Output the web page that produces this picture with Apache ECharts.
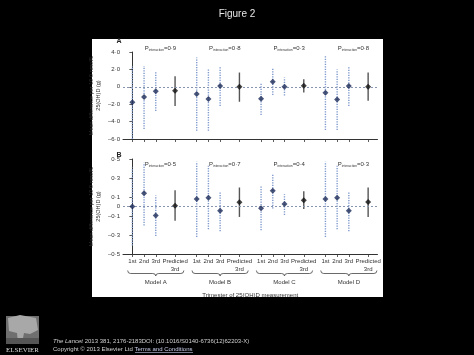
<!DOCTYPE html>
<html><head><meta charset="utf-8">
<script src="https://cdn.jsdelivr.net/npm/echarts@6/dist/echarts.min.js"></script>
<style>html,body{margin:0;padding:0;background:#000;}#c{width:474px;height:355px;}</style>
</head><body><div id="c"></div>
<script>
// ---- data ----
const categories = ['1st', '2nd', '3rd', 'Predicted\n3rd'];
const models = ['Model A', 'Model B', 'Model C', 'Model D'];
const pInteractionA = ['0·9', '0·8', '0·3', '0·8'];
const pInteractionB = ['0·5', '0·7', '0·4', '0·3'];
// panel A (per model: 1st, 2nd, 3rd, predicted 3rd)
const estimateA = [-1.79, -1.18, -0.50, -0.46,  -0.84, -1.41, 0.08, 0.00,  -1.37, 0.57, 0.00, 0.11,  -0.69, -1.45, 0.08, 0.00];
const lowerA    = [-6.00, -4.85, -2.79, -2.20,  -5.04, -5.04, -2.20, -1.72, -3.24, -0.95, -0.99, -0.65, -4.96, -4.96, -2.20, -1.60];
const upperA    = [ 2.40,  2.40,  1.83,  1.22,   3.36,  2.00,  2.29,  1.64,  0.50,  2.10,  1.07,  0.88,  3.50,  2.00,  2.40,  1.64];
// panel B
const estimateB = [0.000, 0.140, -0.096, 0.007,  0.078, 0.093, -0.044, 0.044,  -0.018, 0.167, 0.026, 0.067,  0.078, 0.093, -0.044, 0.048];
const lowerB    = [-0.41, -0.20, -0.31, -0.15,  -0.32, -0.24, -0.26, -0.11,  -0.25, -0.02, -0.09, -0.026,  -0.32, -0.24, -0.26, -0.11];
const upperB    = [ 0.41,  0.46,  0.115, 0.17,   0.47,  0.43,  0.16,  0.20,   0.21,  0.34,  0.13,  0.16,    0.47,  0.43,  0.16,  0.20];
const yTicksA = [-6, -4, -2, 0, 2, 4];
const yTicksB = [-0.5, -0.3, -0.1, 0, 0.1, 0.3, 0.5];
const yAxisTitle = 'Mean difference per 10·0 nmol/L\n25(OH)D (g)';
const xAxisTitle = 'Trimester of 25(OH)D measurement';

// ---- layout helpers ----
const catOffset = [0, 1, 2, 3.65];
const modelStep = 5.5;
const xPos = i => Math.floor(i / 4) * modelStep + catOffset[i % 4];
const xTicks = estimateA.map((_, i) => xPos(i));
const FONT = 'Liberation Sans, Arial, sans-serif';
const fmtY = v => Math.abs(v) < 1e-9 ? '0' : (v < 0 ? '–' : '') + Math.abs(v).toFixed(1).replace('.', '·');
const fmtX = v => { const i = xTicks.findIndex(t => Math.abs(t - v) < 1e-6); return i < 0 ? '' : categories[i % 4]; };

function barData(lo, hi) { return lo.map((l, i) => [xPos(i), l, hi[i], i % 4 === 3 ? 1 : 0]); }
function ptData(est, pred) { return est.map((e, i) => [xPos(i), e, i]).filter(d => (d[2] % 4 === 3) === pred).map(d => [d[0], d[1]]); }

function errRender(params, api) {
  const x = api.value(0), lo = api.value(1), hi = api.value(2), pred = api.value(3);
  const a = api.coord([x, lo]), b = api.coord([x, hi]);
  return {
    type: 'line',
    shape: { x1: a[0], y1: a[1], x2: b[0], y2: b[1] },
    style: pred ? { stroke: '#555', lineWidth: 1.4 } : { stroke: '#7d98cc', lineWidth: 1.4, lineDash: [1.2, 1.3] }
  };
}
function pLabelRender(vals, dy) {
  return function (params, api) {
    const p = api.coord([api.value(0), api.value(1)]);
    const v = vals[params.dataIndex];
    return {
      type: 'text', x: p[0], y: p[1] + dy,
      style: {
        text: '{p|P}{s|interaction}{p|=' + v + '}',
        align: 'center', verticalAlign: 'middle',
        rich: {
          p: { fontSize: 6, fill: '#333', fontFamily: FONT, lineHeight: 8, verticalAlign: 'middle' },
          s: { fontSize: 3.3, fill: '#333', fontFamily: FONT, lineHeight: 8, verticalAlign: 'bottom', padding: [3, 0, 0, 0] }
        }
      }
    };
  };
}
function braceRender(params, api) {
  const a = api.coord([api.value(0), -0.5]), b = api.coord([api.value(1), -0.5]);
  const x1 = a[0], x2 = b[0], m = (x1 + x2) / 2, y0 = a[1] + 19.5;
  const d = `M${x1},${y0 - 3} Q${x1},${y0} ${x1 + 3},${y0} L${m - 3},${y0} Q${m},${y0} ${m},${y0 + 2.5} Q${m},${y0} ${m + 3},${y0} L${x2 - 3},${y0} Q${x2},${y0} ${x2},${y0 - 3}`;
  return {
    type: 'group', children: [
      { type: 'path', shape: { pathData: d }, style: { stroke: '#444', fill: null, lineWidth: 0.8 } },
      { type: 'text', x: m, y: y0 + 9, style: { text: models[params.dataIndex], align: 'center', verticalAlign: 'middle', fontSize: 6, fill: '#333', fontFamily: FONT } }
    ]
  };
}

const xAxisBase = gi => ({
  type: 'value', gridIndex: gi, min: -0.8, max: 20.95,
  axisLine: { show: true, onZero: false, lineStyle: { color: '#333', width: 1 } },
  axisTick: { show: true, customValues: xTicks, length: 3, lineStyle: { color: '#333', width: 0.8 } },
  axisLabel: { show: gi === 1, customValues: xTicks, formatter: gi === 1 ? fmtX : () => '', fontSize: 6, color: '#333', fontFamily: FONT, margin: 3, lineHeight: 8 },
  splitLine: { show: false }
});
const yAxisBase = (gi, min, max, ticks) => ({
  type: 'value', gridIndex: gi, min: min, max: max,
  axisLine: { show: true, lineStyle: { color: '#333', width: 1 } },
  axisTick: { show: true, customValues: ticks, length: 3, lineStyle: { color: '#333', width: 0.8 } },
  axisLabel: { customValues: ticks, formatter: fmtY, fontSize: 6, color: '#333', fontFamily: FONT, margin: 3 },
  splitLine: { show: false },
  name: yAxisTitle, nameLocation: 'middle', nameRotate: 90, nameGap: 21, nameMoveOverlap: false,
  nameTextStyle: { fontSize: 5.5, color: '#333', fontFamily: FONT, lineHeight: 7 }
});

const zeroLine = { silent: true, symbol: 'none', label: { show: false }, lineStyle: { type: [2, 2], color: '#8795b0', width: 1 }, data: [{ yAxis: 0 }] };

function panelSeries(gi, est, lo, hi, pVals, pY, pDy) {
  return [
    { type: 'custom', xAxisIndex: gi, yAxisIndex: gi, renderItem: errRender, data: barData(lo, hi), clip: false, silent: true, z: 2, markLine: zeroLine },
    { type: 'scatter', xAxisIndex: gi, yAxisIndex: gi, data: ptData(est, false), symbol: 'diamond', symbolSize: 6, itemStyle: { color: '#1b2a58' }, z: 5, silent: true },
    { type: 'scatter', xAxisIndex: gi, yAxisIndex: gi, data: ptData(est, true), symbol: 'diamond', symbolSize: 6, itemStyle: { color: '#111' }, z: 5, silent: true },
    { type: 'custom', xAxisIndex: gi, yAxisIndex: gi, renderItem: pLabelRender(pVals, pDy), data: models.map((m, i) => [i * modelStep + 2.4, pY]), clip: false, silent: true, z: 6 }
  ];
}

const chart = echarts.init(document.getElementById('c'), null, { renderer: 'canvas' });
chart.setOption({
  backgroundColor: '#000',
  animation: false,
  title: { text: 'Figure 2', left: 'center', top: 4, textStyle: { color: '#e6e6e6', fontSize: 10, fontWeight: 'normal', fontFamily: FONT } },
  grid: [
    { left: 123, top: 52, width: 254.5, height: 87 },
    { left: 123, top: 159, width: 254.5, height: 95 }
  ],
  xAxis: [
    xAxisBase(0),
    Object.assign(xAxisBase(1), { name: xAxisTitle, nameLocation: 'middle', nameGap: 38, nameMoveOverlap: false, nameTextStyle: { fontSize: 6, color: '#333', fontFamily: FONT } })
  ],
  yAxis: [
    Object.assign(yAxisBase(0, -6, 4, yTicksA), { interval: 2 }),
    yAxisBase(1, -0.5, 0.5, yTicksB)
  ],
  series: [
    ...panelSeries(0, estimateA, lowerA, upperA, pInteractionA, 4, -4),
    ...panelSeries(1, estimateB, lowerB, upperB, pInteractionB, 0.5, 5),
    { type: 'custom', xAxisIndex: 1, yAxisIndex: 1, renderItem: braceRender, data: models.map((m, i) => [i * modelStep - 0.4, i * modelStep + 4.4]), clip: false, silent: true }
  ],
  graphic: [
    { type: 'rect', shape: { x: 92, y: 39, width: 291, height: 258 }, style: { fill: '#fff' }, z: -10, silent: true },
    { type: 'text', x: 119, y: 41, style: { text: 'A', fontSize: 7, fontWeight: 'bold', fill: '#222', fontFamily: FONT, align: 'center', verticalAlign: 'middle' } },
    { type: 'text', x: 119, y: 155, style: { text: 'B', fontSize: 7, fontWeight: 'bold', fill: '#222', fontFamily: FONT, align: 'center', verticalAlign: 'middle' } },
    // Elsevier logo (approximation)
    { type: 'group', children: [
      { type: 'rect', shape: { x: 6, y: 316, width: 33, height: 28 }, style: { fill: '#6f6f6f' } },
      { type: 'polygon', shape: { points: [[8,318],[20,315],[36,318],[38,330],[30,334],[24,333],[22,343],[18,343],[17,333],[9,331]] }, style: { fill: '#a8a8a8' } },
      { type: 'rect', shape: { x: 6, y: 338, width: 33, height: 6 }, style: { fill: '#555' } },
      { type: 'text', x: 22.5, y: 350, style: { text: 'ELSEVIER', fontSize: 7, fill: '#ddd', fontFamily: 'Liberation Serif, serif', align: 'center', verticalAlign: 'middle' } }
    ] },
    { type: 'text', x: 53, y: 341.5, style: { text: '{i|The Lancet} 2013 381, 2176-2183DOI: (10.1016/S0140-6736(12)62203-X)', fontSize: 6, fill: '#d0d0d0', fontFamily: FONT, verticalAlign: 'middle',
      rich: { i: { fontStyle: 'italic', fontSize: 6, fill: '#d0d0d0', fontFamily: FONT } } } },
    { type: 'text', x: 53, y: 349, style: { text: 'Copyright © 2013 Elsevier Ltd {u|Terms and Conditions}', fontSize: 6, fill: '#d0d0d0', fontFamily: FONT, verticalAlign: 'middle',
      rich: { u: { fontSize: 6, fill: '#c8cde8', fontFamily: FONT } } } },
    { type: 'line', shape: { x1: 135, y1: 352.5, x2: 193, y2: 352.5 }, style: { stroke: '#c8cde8', lineWidth: 0.6 } }
  ]
});
</script>
</body></html>
